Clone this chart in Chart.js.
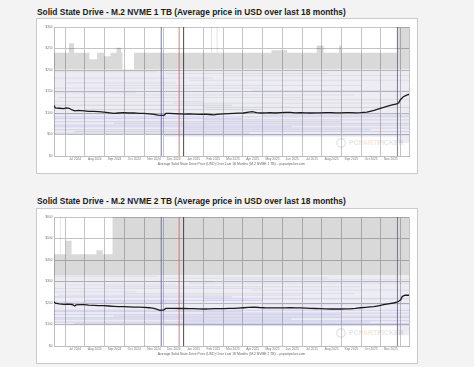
<!DOCTYPE html>
<html>
<head>
<meta charset="utf-8">
<title>SSD price history</title>
<script src="https://cdn.jsdelivr.net/npm/chart.js@4.4.1/dist/chart.umd.min.js"></script>
<style>
  html, body { margin: 0; padding: 0; background: #f3f3f3; }
  body { width: 474px; height: 367px; position: relative; overflow: hidden; font-family: "Liberation Sans", Arial, sans-serif; }
  .title { position: absolute; left: 37px; font-weight: bold; font-size: 8.4px; line-height: 10px; color: #1c1c1e; white-space: nowrap; }
  .panel { position: absolute; left: 36px; width: 380px; height: 154px; background: #fff; border: 1px solid #cbcbcb; }
  .panel canvas { display: block; }
</style>
</head>
<body>
<div class="title" style="top:7px">Solid State Drive - M.2 NVME 1 TB (Average price in USD over last 18 months)</div>
<div class="panel" style="top:18px"><canvas id="chart1tb" width="380" height="154"></canvas></div>
<div class="title" style="top:196px">Solid State Drive - M.2 NVME 2 TB (Average price in USD over last 18 months)</div>
<div class="panel" style="top:208px"><canvas id="chart2tb" width="380" height="154"></canvas></div>
<script>
// shared x range / labels
const rangeStart = '2024-06-14';
const rangeEnd = '2025-12-14';
const monthLabels = ['Jul 2024', 'Aug 2024', 'Sep 2024', 'Oct 2024', 'Nov 2024', 'Dec 2024', 'Jan 2025', 'Feb 2025', 'Mar 2025',
    'Apr 2025', 'May 2025', 'Jun 2025', 'Jul 2025', 'Aug 2025', 'Sep 2025', 'Oct 2025', 'Nov 2025'];
// black friday, christmas, new year, black friday
const eventDates = ['2024-11-27', '2024-12-25', '2025-01-01', '2025-11-26'];

// ---- 1 TB ----
const yTicks1 = [0, 50, 100, 150, 200, 250, 300];
const avg1 = [
    ['2024-06-14', 117], ['2024-06-16', 112], ['2024-06-22', 111], ['2024-06-29', 110], ['2024-07-03', 112], ['2024-07-07', 111],
    ['2024-07-12', 107], ['2024-07-16', 105], ['2024-07-22', 106], ['2024-07-31', 105], ['2024-08-06', 104], ['2024-08-15', 104],
    ['2024-08-22', 103], ['2024-08-31', 102], ['2024-09-06', 101], ['2024-09-15', 99], ['2024-09-22', 100], ['2024-09-30', 101],
    ['2024-10-07', 100], ['2024-10-16', 100.5], ['2024-10-24', 99], ['2024-11-01', 99], ['2024-11-09', 98], ['2024-11-16', 97],
    ['2024-11-22', 95], ['2024-11-28', 94.5], ['2024-12-02', 95], ['2024-12-04', 99], ['2024-12-10', 99], ['2024-12-17', 98.5],
    ['2024-12-25', 98], ['2025-01-02', 97.5], ['2025-01-10', 98], ['2025-01-17', 97.5], ['2025-01-25', 97], ['2025-02-02', 97.5],
    ['2025-02-10', 96.5], ['2025-02-16', 95.5], ['2025-02-20', 97], ['2025-03-02', 98], ['2025-03-10', 98.5], ['2025-03-18', 99],
    ['2025-03-25', 99.5], ['2025-04-02', 100], ['2025-04-10', 102], ['2025-04-15', 103], ['2025-04-22', 101], ['2025-04-28', 100],
    ['2025-05-06', 100.5], ['2025-05-13', 101], ['2025-05-21', 100], ['2025-05-29', 101], ['2025-06-07', 101.5], ['2025-06-13', 101.5],
    ['2025-06-21', 100.5], ['2025-06-29', 101], ['2025-07-06', 100.5], ['2025-07-14', 100], ['2025-07-22', 100.5], ['2025-07-30', 100.5],
    ['2025-08-07', 101], ['2025-08-15', 101], ['2025-08-23', 100.5], ['2025-08-31', 100.5], ['2025-09-07', 101], ['2025-09-14', 101],
    ['2025-09-22', 100.5], ['2025-09-30', 101], ['2025-10-05', 101.5], ['2025-10-10', 102], ['2025-10-15', 104], ['2025-10-21', 106],
    ['2025-10-26', 108.5], ['2025-10-31', 111], ['2025-11-05', 113], ['2025-11-10', 115.5], ['2025-11-15', 117.5], ['2025-11-20', 119.5],
    ['2025-11-25', 121], ['2025-11-28', 124], ['2025-12-01', 132], ['2025-12-03', 134], ['2025-12-05', 138], ['2025-12-08', 140],
    ['2025-12-12', 142.5], ['2025-12-14', 143]
];
// min/max envelope of listed products (step values)
const upper1 = [
    ['2024-06-14', 240], ['2024-07-07', 262], ['2024-07-15', 240], ['2024-08-08', 225], ['2024-08-20', 240], ['2024-08-31', 232],
    ['2024-09-10', 240], ['2024-09-19', 252], ['2024-09-26', 240], ['2024-09-28', 202], ['2024-10-16', 240], ['2025-02-12', 300],
    ['2025-02-13', 240], ['2025-02-20', 300], ['2025-02-21', 240], ['2025-05-15', 246], ['2025-06-08', 240], ['2025-07-24', 257],
    ['2025-08-04', 240], ['2025-08-28', 257], ['2025-09-01', 240], ['2025-11-25', 300], ['2025-12-14', 300]
];
const core1 = [['2024-06-14', 202], ['2025-12-14', 202]];
const lower1 = [['2024-06-14', 50], ['2024-12-01', 45], ['2025-11-25', 30], ['2025-12-14', 30]];
// individual listings [from, to, price]
const streaksHi1 = [
    ['2024-06-14', '2024-11-20', 196], ['2024-12-05', '2025-08-10', 192], ['2025-03-01', '2025-12-14', 187],
    ['2024-06-14', '2025-02-15', 181], ['2025-01-10', '2025-12-14', 176], ['2024-07-01', '2024-12-20', 170],
    ['2024-09-01', '2025-10-01', 164], ['2024-06-14', '2025-05-01', 158], ['2025-04-15', '2025-12-14', 152],
    ['2024-06-14', '2024-10-20', 147], ['2024-10-01', '2025-09-20', 142], ['2024-06-20', '2025-06-30', 136],
    ['2025-06-01', '2025-12-14', 131], ['2024-06-14', '2025-01-31', 127], ['2024-12-15', '2025-11-30', 123]
];
const streaksLo1 = [
    ['2024-06-14', '2025-03-15', 118], ['2025-02-01', '2025-12-14', 113], ['2024-08-01', '2025-04-30', 108],
    ['2024-06-14', '2024-12-31', 98], ['2025-05-01', '2025-12-14', 95], ['2024-06-14', '2025-12-14', 91],
    ['2024-06-14', '2025-03-31', 87], ['2025-02-01', '2025-12-14', 84], ['2024-06-14', '2025-08-31', 80],
    ['2024-09-15', '2025-12-14', 76], ['2024-06-14', '2025-12-14', 72], ['2024-06-14', '2025-06-15', 68],
    ['2025-01-01', '2025-12-14', 65], ['2024-06-14', '2025-10-15', 61], ['2024-07-15', '2025-12-14', 57],
    ['2024-06-14', '2025-04-10', 53], ['2024-12-01', '2025-12-14', 49]
];

// ---- 2 TB ----
const yTicks2 = [0, 100, 200, 300, 400, 500, 600];
const avg2 = [
    ['2024-06-14', 206], ['2024-06-16', 199], ['2024-06-22', 196], ['2024-06-29', 194], ['2024-07-05', 195], ['2024-07-12', 193],
    ['2024-07-16', 186], ['2024-07-18', 191], ['2024-07-24', 192], ['2024-07-31', 192], ['2024-08-07', 190], ['2024-08-15', 189],
    ['2024-08-23', 188], ['2024-08-31', 187.5], ['2024-09-07', 186], ['2024-09-15', 184.5], ['2024-09-22', 183], ['2024-09-30', 183],
    ['2024-10-08', 182], ['2024-10-16', 181], ['2024-10-24', 180.5], ['2024-11-01', 180], ['2024-11-09', 178], ['2024-11-16', 175],
    ['2024-11-21', 170], ['2024-11-25', 166], ['2024-12-01', 168], ['2024-12-04', 175], ['2024-12-10', 175], ['2024-12-17', 175],
    ['2024-12-25', 174.5], ['2025-01-02', 175], ['2025-01-10', 174], ['2025-01-17', 174], ['2025-01-25', 173], ['2025-02-02', 172],
    ['2025-02-10', 173], ['2025-02-16', 174], ['2025-02-24', 173.5], ['2025-03-02', 174], ['2025-03-10', 175], ['2025-03-18', 175],
    ['2025-03-25', 176.5], ['2025-04-02', 178], ['2025-04-10', 180], ['2025-04-18', 181], ['2025-04-26', 179], ['2025-05-04', 178],
    ['2025-05-13', 177.5], ['2025-05-21', 177], ['2025-05-29', 177], ['2025-06-06', 177.5], ['2025-06-13', 178], ['2025-06-21', 177],
    ['2025-06-29', 177], ['2025-07-07', 176], ['2025-07-14', 175], ['2025-07-22', 174.5], ['2025-07-30', 174], ['2025-08-07', 173],
    ['2025-08-15', 172], ['2025-08-23', 172], ['2025-08-31', 172], ['2025-09-07', 172.5], ['2025-09-14', 173], ['2025-09-22', 175],
    ['2025-09-30', 178], ['2025-10-08', 180], ['2025-10-15', 182], ['2025-10-21', 183], ['2025-10-28', 187], ['2025-11-05', 192],
    ['2025-11-12', 196], ['2025-11-20', 200], ['2025-11-25', 204], ['2025-11-28', 208], ['2025-12-01', 215], ['2025-12-03', 228],
    ['2025-12-05', 233], ['2025-12-08', 237], ['2025-12-12', 236], ['2025-12-14', 236]
];
const upper2 = [
    ['2024-06-14', 427], ['2024-06-23', 600], ['2024-06-24', 427], ['2024-07-02', 490], ['2024-07-11', 427], ['2024-08-19', 445],
    ['2024-08-29', 427], ['2024-09-13', 600], ['2025-12-14', 600]
];
const core2 = [['2024-06-14', 330], ['2025-12-14', 330]];
const lower2 = [['2024-06-14', 95], ['2024-12-01', 92], ['2025-11-25', 50], ['2025-12-14', 50]];
const streaksHi2 = [
    ['2024-06-14', '2024-11-20', 324], ['2024-12-05', '2025-08-10', 316], ['2025-03-01', '2025-12-14', 308],
    ['2024-06-14', '2025-02-15', 300], ['2025-01-10', '2025-12-14', 292], ['2024-07-01', '2024-12-20', 284],
    ['2024-09-01', '2025-10-01', 276], ['2024-06-14', '2025-05-01', 268], ['2025-04-15', '2025-12-14', 260],
    ['2024-06-14', '2024-10-20', 252], ['2024-10-01', '2025-09-20', 244], ['2024-06-20', '2025-06-30', 236]
];
const streaksLo2 = [
    ['2024-06-14', '2025-03-15', 228], ['2025-02-01', '2025-12-14', 220], ['2024-08-01', '2025-04-30', 212],
    ['2024-06-14', '2024-12-31', 204], ['2025-05-01', '2025-12-14', 196], ['2024-06-14', '2025-12-14', 166],
    ['2024-06-14', '2025-03-31', 160], ['2025-02-01', '2025-12-14', 153], ['2024-06-14', '2025-08-31', 146],
    ['2024-09-15', '2025-12-14', 139], ['2024-06-14', '2025-12-14', 132], ['2024-06-14', '2025-06-15', 125],
    ['2025-01-01', '2025-12-14', 118], ['2024-06-14', '2025-10-15', 111], ['2024-07-15', '2025-12-14', 104],
    ['2024-12-01', '2025-12-14', 98]
];

// months since 2024-06-01 (1 = Jul 1 2024)
function monthPos(d) {
    const [y, m, day] = d.split('-').map(Number);
    const dim = new Date(y, m, 0).getDate();
    return (y - 2024) * 12 + (m - 6) + (day - 1) / dim;
}
function pts(rows) {
    return rows.map(r => ({x: monthPos(r[0]), y: r[1]}));
}
function segPts(segs) {
    const out = [];
    segs.forEach(s => {
        out.push({x: monthPos(s[0]), y: s[2]}, {x: monthPos(s[1]), y: s[2]}, {x: monthPos(s[1]), y: null});
    });
    return out;
}

const xMin = monthPos(rangeStart);
const xMax = monthPos(rangeEnd);
const tickFont = {family: '"Liberation Sans", Arial, sans-serif', size: 3.2};

const watermark = {
    id: 'watermark',
    afterDatasetsDraw(chart) {
        const {ctx, chartArea: a} = chart;
        const x = a.right - 68, y = a.bottom - 13;
        const grey = 'rgba(165,165,165,0.3)';
        ctx.save();
        ctx.strokeStyle = grey;
        ctx.lineWidth = 1.4;
        ctx.beginPath();
        ctx.arc(x, y, 4.2, 0, Math.PI * 2);
        ctx.stroke();
        ctx.font = 'bold 7px "Liberation Sans", Arial';
        ctx.textBaseline = 'middle';
        let tx = x + 8;
        [['PC', grey], ['PART', 'rgba(225,160,95,0.25)'], ['PICKER', grey]].forEach(p => {
            ctx.fillStyle = p[1];
            ctx.fillText(p[0], tx, y);
            tx += ctx.measureText(p[0]).width;
        });
        ctx.restore();
    }
};

function makeChart(id, o) {
    const yMax = o.yTicks[o.yTicks.length - 1];
    const eventColors = ['rgba(70,70,215,0.75)', 'rgba(225,85,85,0.8)', 'rgba(50,50,50,0.8)', 'rgba(70,70,215,0.75)'];
    const events = eventDates.map((d, i) => ({
        data: [{x: monthPos(d), y: 0}, {x: monthPos(d), y: yMax}],
        borderColor: eventColors[i], borderWidth: 1, order: 1
    }));
    const datasets = [
        {data: pts(o.avg), borderColor: '#1b1b1b', borderWidth: 1.3, order: 0},
        {data: segPts(o.streaksLo), borderColor: 'rgba(80,80,205,0.17)', borderWidth: 1, spanGaps: false, order: 2},
        {data: segPts(o.streaksHi), borderColor: 'rgba(120,120,175,0.13)', borderWidth: 1, spanGaps: false, order: 2},
        {data: pts(o.upper), stepped: true, borderWidth: 0, borderColor: 'rgba(0,0,0,0)', fill: '+1', backgroundColor: 'rgba(0,0,0,0.15)', order: 4},
        {data: pts(o.core), borderWidth: 0, borderColor: 'rgba(0,0,0,0)', fill: '+1', backgroundColor: 'rgba(40,40,110,0.09)', order: 3},
        {data: pts(o.lower), stepped: true, borderWidth: 0, borderColor: 'rgba(0,0,0,0)', fill: false, order: 5}
    ].concat(events);

    return new Chart(document.getElementById(id).getContext('2d'), {
        type: 'line',
        data: {datasets: datasets},
        options: {
            responsive: false,
            animation: false,
            devicePixelRatio: 1,
            layout: {padding: {top: 8, right: 8, left: 0, bottom: 0}},
            elements: {point: {radius: 0}, line: {tension: 0}},
            plugins: {legend: {display: false}, tooltip: {enabled: false}},
            scales: {
                x: {
                    type: 'linear',
                    min: xMin,
                    max: xMax,
                    afterBuildTicks: (scale) => {
                        const t = [];
                        for (let i = 1; i <= monthLabels.length + 1; i++) {
                            t.push({value: i});
                            if (i <= monthLabels.length) t.push({value: i + 0.5});
                        }
                        t.push({value: xMax});
                        scale.ticks = t;
                    },
                    afterFit: (scale) => { scale.height = 17; },
                    grid: {
                        drawTicks: false,
                        color: (ctx) => {
                            const v = ctx.tick ? ctx.tick.value : 0;
                            return (Number.isInteger(v) || v === xMax) ? '#c4c4c4' : 'rgba(0,0,0,0)';
                        }
                    },
                    border: {color: '#bdbdbd'},
                    ticks: {
                        autoSkip: false, maxRotation: 0, minRotation: 0, padding: 1.5,
                        color: '#777', font: tickFont,
                        callback: (v) => {
                            const i = v - 1.5;
                            return (Number.isInteger(i) && monthLabels[i]) ? monthLabels[i] : '';
                        }
                    },
                    title: {
                        display: true, text: o.axisTitle, color: '#666',
                        font: {family: '"Liberation Sans", Arial, sans-serif', size: 3.4},
                        padding: {top: 0, bottom: 6.7}
                    }
                },
                y: {
                    min: 0,
                    max: yMax,
                    afterBuildTicks: (scale) => { scale.ticks = o.yTicks.map(v => ({value: v})); },
                    afterFit: (scale) => { scale.width = 17; },
                    grid: {drawTicks: false, color: '#c4c4c4'},
                    border: {color: '#bdbdbd'},
                    ticks: {padding: 1.5, color: '#777', font: tickFont, callback: (v) => '$' + v}
                }
            }
        },
        plugins: [watermark]
    });
}

makeChart('chart1tb', {
    yTicks: yTicks1, avg: avg1, upper: upper1, core: core1, lower: lower1, streaksHi: streaksHi1, streaksLo: streaksLo1,
    axisTitle: 'Average Solid State Drive Price (USD) Over Last 18 Months (M.2 NVME 1 TB) \u2013 pcpartpicker.com'
});
makeChart('chart2tb', {
    yTicks: yTicks2, avg: avg2, upper: upper2, core: core2, lower: lower2, streaksHi: streaksHi2, streaksLo: streaksLo2,
    axisTitle: 'Average Solid State Drive Price (USD) Over Last 18 Months (M.2 NVME 2 TB) \u2013 pcpartpicker.com'
});
</script>
</body>
</html>
